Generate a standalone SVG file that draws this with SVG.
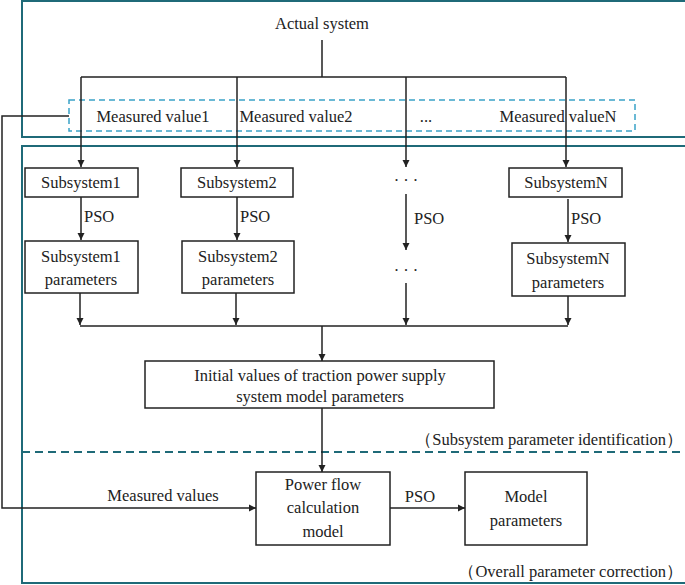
<svg xmlns="http://www.w3.org/2000/svg" width="685" height="585" viewBox="0 0 685 585" font-family="'Liberation Serif', 'Times New Roman', 'DejaVu Serif', serif">
<defs><marker id="a" viewBox="0 0 10 10" refX="10" refY="5" markerWidth="7" markerHeight="8" orient="auto" markerUnits="userSpaceOnUse"><path d="M0,0L10,5L0,10z" fill="#222"/></marker></defs>
<style>text{font-family:'Liberation Serif','Times New Roman',serif;font-size:16.5px;fill:#222;text-anchor:middle}.s{text-anchor:start}.e{text-anchor:end}.b{fill:#fff;stroke:#222;stroke-width:1.5}.l{fill:none;stroke:#222;stroke-width:1.5}.f{fill:none;stroke:#1f6a78;stroke-width:2}</style>
<rect fill="#fff" width="685" height="585"/>
<g id="frames"><rect class="f" x="22" y="1" width="670" height="136"/><rect class="f" x="22" y="146" width="670" height="437"/><line x1="22" y1="452" x2="685" y2="452" stroke="#1f6a78" stroke-width="2" stroke-dasharray="8,5"/>
<rect x="69" y="100" width="566" height="31" fill="none" stroke="#3aa3c8" stroke-width="1.5" stroke-dasharray="6,4"/></g>
<g id="connectors">
<path class="l" d="M322,40V77M81,77H566"/>
<path class="l" marker-end="url(#a)" d="M81,77V167"/><path class="l" marker-end="url(#a)" d="M237,77V167"/><path class="l" marker-end="url(#a)" d="M406,77V167"/><path class="l" marker-end="url(#a)" d="M566,77V167"/>
<path class="l" marker-end="url(#a)" d="M81,197V240"/><path class="l" marker-end="url(#a)" d="M237,197V240"/><path class="l" marker-end="url(#a)" d="M406,194V250"/><path class="l" marker-end="url(#a)" d="M568,199V242"/>
<path class="l" marker-end="url(#a)" d="M80,293V325"/><path class="l" marker-end="url(#a)" d="M236,293V325"/><path class="l" marker-end="url(#a)" d="M406,283V325"/><path class="l" marker-end="url(#a)" d="M568,296V325"/>
<path class="l" d="M80,326H568"/><path class="l" marker-end="url(#a)" d="M322,326V361"/><path class="l" marker-end="url(#a)" d="M322,408V472"/>
<path class="l" marker-end="url(#a)" d="M69,116H2V508H256"/><path class="l" marker-end="url(#a)" d="M390,508H465"/>
<text x="420" y="502">PSO</text><text x="163" y="501">Measured values</text>
<text class="s" x="84" y="222">PSO</text><text class="s" x="240" y="222">PSO</text><text class="s" x="414" y="224">PSO</text><text class="s" x="571" y="224">PSO</text>
</g>
<g id="actual"><text x="322" y="29">Actual system</text></g>
<g id="meas"><text x="153" y="122">Measured value1</text><text x="296" y="122">Measured value2</text><text x="426" y="122">...</text><text x="558" y="122">Measured valueN</text></g>
<g id="s1"><rect class="b" x="25" y="168" width="113" height="29"/><text x="81" y="188">Subsystem1</text></g>
<g id="s2"><rect class="b" x="181" y="168" width="112" height="29"/><text x="237" y="188">Subsystem2</text></g>
<g id="sd"><text x="406" y="186">· · ·</text><text x="406" y="276">· · ·</text></g>
<g id="sN"><rect class="b" x="509" y="168" width="113" height="29"/><text x="566" y="188">SubsystemN</text></g>
<g id="p1"><rect class="b" x="25" y="241" width="113" height="52"/><text x="81" y="262">Subsystem1</text><text x="81" y="285">parameters</text></g>
<g id="p2"><rect class="b" x="182" y="241" width="112" height="52"/><text x="238" y="262">Subsystem2</text><text x="238" y="285">parameters</text></g>
<g id="pN"><rect class="b" x="512" y="243" width="113" height="53"/><text x="568" y="264">SubsystemN</text><text x="568" y="288">parameters</text></g>
<g id="init"><rect class="b" x="145" y="361" width="349" height="47"/><text x="320" y="381">Initial values of traction power supply</text><text x="320" y="402">system model parameters</text></g>
<g id="pf"><rect class="b" x="256" y="472" width="134" height="73"/><text x="323" y="490">Power flow</text><text x="323" y="513">calculation</text><text x="323" y="537">model</text></g>
<g id="mp"><rect class="b" x="465" y="472" width="122" height="73"/><text x="526" y="502">Model</text><text x="526" y="526">parameters</text></g>
<g id="labels"><text class="e" x="683" y="445">（Subsystem parameter identification）</text><text class="e" x="683" y="577">（Overall parameter correction）</text></g>
</svg>
